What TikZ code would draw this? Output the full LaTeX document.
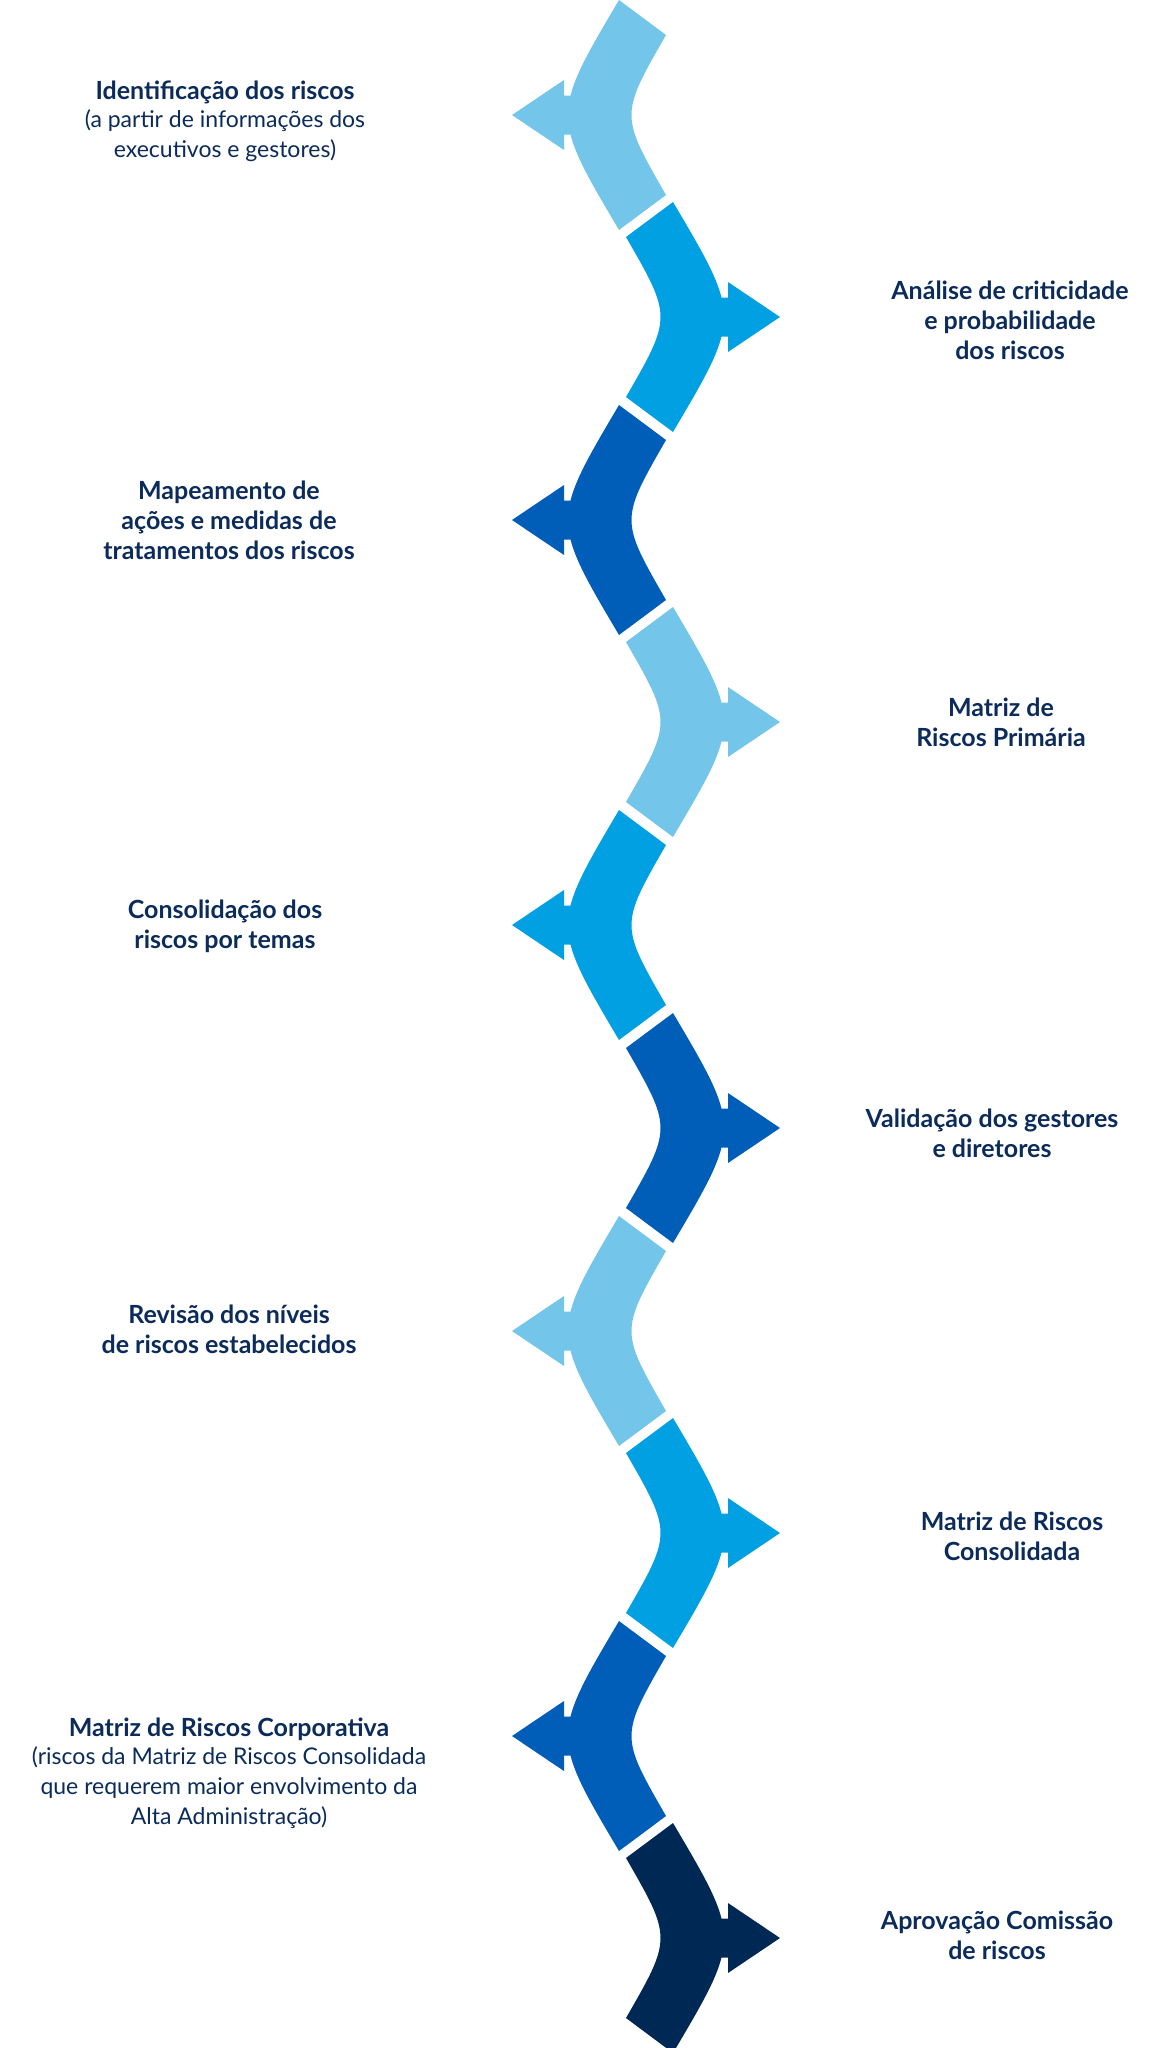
\documentclass[tikz,border=0pt]{standalone}
\usepackage{fontspec}
\setmainfont{Lato}
\definecolor{cL}{HTML}{74C5EA}
\definecolor{cM}{HTML}{00A0E2}
\definecolor{cD}{HTML}{005EB8}
\definecolor{cN}{HTML}{002855}
\definecolor{txt}{HTML}{0B2B5B}
\newcommand{\subf}{\fontsize{23}{29}\selectfont\mdseries}
\begin{document}
\begin{tikzpicture}[x=1pt,y=-1pt,
  lbl/.style={text=txt,align=center,font=\fontsize{25}{30}\selectfont\bfseries}]
\useasboundingbox (0,0) rectangle (1161,2048);
\newcommand{\segL}[2]{%
  \fill[#2] (619,#1-115) .. controls (551,#1) .. (619,#1+115) -- (666,#1+80)
    .. controls (620,#1) .. (666,#1-80) -- cycle;
  \fill[#2] (590,#1-19.5) -- (564,#1-19.5) -- (564,#1-35) -- (512,#1) -- (564,#1+35) -- (564,#1+19.5) -- (590,#1+19.5) -- cycle;}
\newcommand{\segR}[2]{%
  \fill[#2] (673,#1-115) .. controls (741,#1) .. (673,#1+115) -- (626,#1+80)
    .. controls (672,#1) .. (626,#1-80) -- cycle;
  \fill[#2] (702,#1-19.5) -- (728,#1-19.5) -- (728,#1-35) -- (780,#1) -- (728,#1+35) -- (728,#1+19.5) -- (702,#1+19.5) -- cycle;}
\segL{115}{cL}
\segR{317}{cM}
\segL{520}{cD}
\segR{722}{cL}
\segL{925}{cM}
\segR{1128}{cD}
\segL{1331}{cL}
\segR{1533}{cM}
\segL{1736}{cD}
\segR{1938}{cN}
\node[lbl] (t1) at (225,121) {Identificação dos riscos\\[-2pt]{\subf(a partir de informações dos}\\{\subf executivos e gestores)}};
\node[lbl] (t2) at (1010,320) {Análise de criticidade\\e probabilidade\\dos riscos};
\node[lbl] (t3) at (229,520) {Mapeamento de\\ações e medidas de\\tratamentos dos riscos};
\node[lbl] (t4) at (1001,722) {Matriz de\\Riscos Primária};
\node[lbl] (t5) at (225,926) {Consolidação dos\\riscos por temas};
\node[lbl] (t6) at (992,1133) {Validação dos gestores\\e diretores};
\node[lbl] (t7) at (229,1329) {Revisão dos níveis\\de riscos estabelecidos};
\node[lbl] (t8) at (1012,1536) {Matriz de Riscos\\Consolidada};
\node[lbl] (t9) at (229,1773) {Matriz de Riscos Corporativa\\[-2pt]{\subf(riscos da Matriz de Riscos Consolidada}\\{\subf que requerem maior envolvimento da}\\{\subf Alta Administração)}};
\node[lbl] (t10) at (997,1935) {Aprovação Comissão\\de riscos};
\end{tikzpicture}
\end{document}
